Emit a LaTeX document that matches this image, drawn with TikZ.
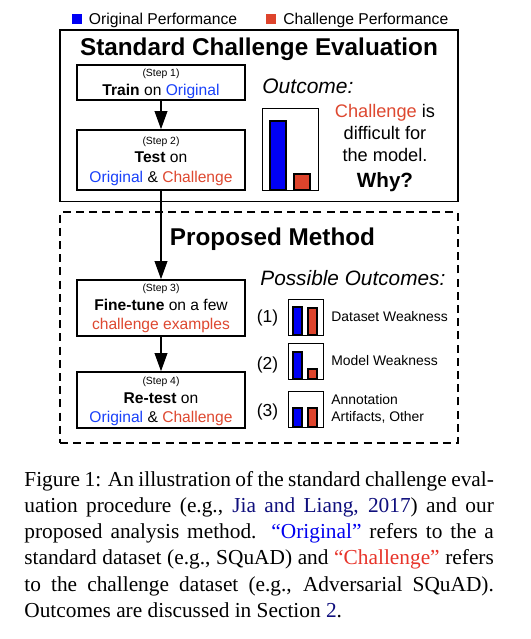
\documentclass[tikz,border=0pt]{standalone}
\usepackage{fontspec}
\setmainfont{Liberation Serif}
\setsansfont{Liberation Sans}
\usetikzlibrary{arrows.meta}
\definecolor{barblue}{RGB}{0,0,245}
\definecolor{barred}{RGB}{222,68,44}
\definecolor{txtblue}{RGB}{25,65,250}
\definecolor{txtred}{RGB}{222,72,48}
\definecolor{capblue}{RGB}{0,0,240}
\definecolor{capred}{RGB}{232,52,42}
\definecolor{citeblue}{RGB}{15,15,125}
\newcommand\fsz[1]{\fontsize{#1pt}{#1pt}\selectfont}
\newcommand\capline[1]{\makebox[234.75pt][s]{#1}}
\newcommand\minichart[3]{%
  \draw[line width=0.5pt] (288,#1) rectangle (323,#1+36);
  \draw[line width=0.6pt, fill=barblue] (293,#2) rectangle (302,#1+36);
  \draw[line width=0.6pt, fill=barred] (308,#3) rectangle (317,#1+36);}
\tikzset{
  lbl/.style={font=\sffamily, inner sep=0pt, anchor=base},
  stepbox/.style={draw, line width=0.8pt, minimum width=84pt, inner sep=0pt},
  arr/.style={line width=0.8pt, -{Triangle[width=6.3pt,length=9pt]}},
  steptag/.style={lbl, font=\sffamily\fsz{5.2}},
  stepmain/.style={lbl, font=\sffamily\fsz{7.8}},
  outc/.style={lbl, anchor=base west, font=\sffamily\fsz{6.95}},
  numtag/.style={lbl, anchor=base west, font=\sffamily\fsz{8.7}},
  captxt/.style={anchor=base west, inner sep=0pt, font=\fsz{10.67}},
}
\begin{document}
\begin{tikzpicture}[x=0.5pt,y=-0.5pt]
\useasboundingbox[fill=white] (0,0) rectangle (531,639);

% legend
\fill[barblue] (72,13.5) rectangle (82,23.5);
\node[lbl, anchor=base west, font=\sffamily\fsz{7.85}] (lg1) at (88.5,24) {Original Performance};
\fill[barred] (265.5,13.5) rectangle (275.5,23.5);
\node[lbl, anchor=base west, font=\sffamily\fsz{7.85}] (lg2) at (283,24) {Challenge Performance};

% frames
\node[draw, line width=0.8pt, minimum width=199pt, minimum height=85.75pt, inner sep=0pt] (std) at (259,115.75) {};
\node[draw, dashed, dash pattern=on 4pt off 2.6pt, line width=0.7pt, minimum width=199pt, minimum height=115.5pt, inner sep=0pt] (prop) at (259,327.5) {};

\node[lbl, font=\sffamily\bfseries\fsz{12.15}] (t1) at (259,55) {Standard Challenge Evaluation};
\node[lbl, font=\sffamily\bfseries\fsz{12.15}] (t2) at (272.5,245) {Proposed Method};

% step boxes
\node[stepbox, minimum height=17.5pt] (s1) at (161,82.5) {};
\node[stepbox, minimum height=30pt] (s2) at (161,160) {};
\node[stepbox, minimum height=28pt] (s3) at (161,308) {};
\node[stepbox, minimum height=28pt] (s4) at (161,400) {};

\node[steptag] (s1a) at (161,76.5) {(Step 1)};
\node[stepmain] (s1b) at (161,95) {\textbf{Train} on \textcolor{txtblue}{Original}};
\node[steptag] (s2a) at (161,144.3) {(Step 2)};
\node[stepmain] (s2b) at (161,162.5) {\textbf{Test} on};
\node[stepmain] (s2c) at (161,182.5) {\textcolor{txtblue}{Original} \& \textcolor{txtred}{Challenge}};
\node[steptag] (s3a) at (161,291.7) {(Step 3)};
\node[stepmain] (s3b) at (161,310.7) {\textbf{Fine-tune} on a few};
\node[stepmain] (s3c) at (161,329) {\textcolor{txtred}{challenge examples}};
\node[steptag] (s4a) at (161,384) {(Step 4)};
\node[stepmain] (s4b) at (161,403.3) {\textbf{Re-test} on};
\node[stepmain] (s4c) at (161,422.3) {\textcolor{txtblue}{Original} \& \textcolor{txtred}{Challenge}};

\draw[arr] (s1.south) -- (s2.north);
\draw[arr] (s2.south) -- (s3.north);
\draw[arr] (s3.south) -- (s4.north);

% outcome
\node[lbl, anchor=base west, font=\sffamily\itshape\fsz{10.5}] (oc) at (262,93.3) {Outcome:};
\draw[line width=0.5pt] (262,108) rectangle (318,190);
\draw[line width=0.6pt, fill=barblue] (270,121) rectangle (286,190);
\draw[line width=0.6pt, fill=barred] (294,174) rectangle (310,190);
\node[lbl, font=\sffamily\fsz{9.1}] (w1) at (385,117.7) {\textcolor{txtred}{Challenge} is};
\node[lbl, font=\sffamily\fsz{9.1}] (w2) at (385,139.3) {difficult for};
\node[lbl, font=\sffamily\fsz{9.1}] (w3) at (385,161) {the model.};
\node[lbl, font=\sffamily\bfseries\fsz{10.3}] (w4) at (385,187.5) {Why?};

% possible outcomes
\node[lbl, anchor=base west, font=\sffamily\itshape\fsz{10.4}] (po) at (260,285) {Possible Outcomes:};
\node[numtag] (n1) at (256.5,322.3) {(1)};
\minichart{299}{307}{308}
\node[outc] (o1) at (331,321.7) {Dataset Weakness};
\node[numtag] (n2) at (256.5,369) {(2)};
\minichart{343}{352}{369}
\node[outc] (o2) at (331,365.7) {Model Weakness};
\node[numtag] (n3) at (256.5,416) {(3)};
\minichart{391}{408}{408}
\node[outc] (o3a) at (331,404.3) {Annotation};
\node[outc] (o3b) at (331,421.7) {Artifacts, Other};

% caption
\node[captxt] (c1) at (24,486) {\capline{Figure 1: An illustration of the standard challenge eval-}};
\node[captxt] (c2) at (24,512.3) {\capline{uation procedure (e.g., \textcolor{citeblue}{Jia and Liang, 2017}) and our}};
\node[captxt] (c3) at (24,538.6) {\capline{proposed analysis method. \textcolor{capblue}{“Original”} refers to the a}};
\node[captxt] (c4) at (24,564.9) {\capline{standard dataset (e.g., SQuAD) and \textcolor{capred}{“Challenge”} refers}};
\node[captxt] (c5) at (24,591.2) {\capline{to the challenge dataset (e.g., Adversarial SQuAD).}};
\node[captxt] (c6) at (24,617.5) {Outcomes are discussed in Section \textcolor{citeblue}{2}.};
\end{tikzpicture}
\end{document}
